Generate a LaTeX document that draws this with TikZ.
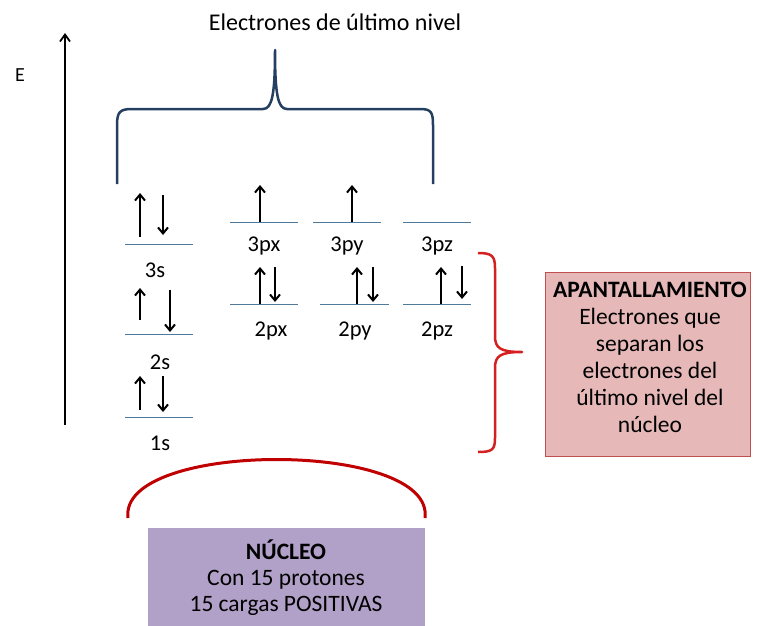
\documentclass[tikz,border=0pt]{standalone}
\usepackage{fontspec}
\setmainfont{Carlito}
\usetikzlibrary{arrows.meta}
\definecolor{bracec}{HTML}{243F60}
\definecolor{linec}{HTML}{4F7A9A}
\definecolor{redc}{HTML}{C0504D}
\definecolor{bracered}{HTML}{D42020}
\definecolor{boxred}{HTML}{E6B9B8}
\definecolor{arcred}{HTML}{C00000}
\definecolor{purp}{HTML}{B1A0C7}
\begin{document}
\begin{tikzpicture}[x=1pt,y=-1pt,
  lvl/.style={draw=linec,line width=0.8pt},
  el/.style={line width=2pt,-{Straight Barb[length=6pt,width=10pt]}},
  lab/.style={font=\fontsize{22.5}{24}\selectfont,inner sep=0pt}]
\useasboundingbox (0,0) rectangle (768,626);
\node[lab,font=\fontsize{20}{22}\selectfont] (E) at (20,75) {E};
\coordinate (ab) at (65,425); \coordinate (at) at (65,33);
\draw[line width=1.8pt,-{Straight Barb[length=7pt,width=10pt]}] (ab) -- (at);
\node[lab,font=\fontsize{24}{26}\selectfont] (title) at (335,22) {Electrones de último nivel};
% brace
\draw[bracec,line width=2.5pt,line join=round] (117,184) -- (117,125) .. controls (117,112) and (120,109) .. (132,109) -- (263,109) .. controls (272,109) and (275,95) .. (275,50)
  .. controls (275,95) and (278,109) .. (287,109) -- (420,109) .. controls (431,109) and (433,112) .. (433,125) -- (433,184);
% levels
\foreach \n/\a/\b/\y in {l3s/125/193/244,l2s/125/193/334,l1s/125/193/417,l3px/230/298/222,l3py/313/381/222,l3pz/403/471/222,l2px/230/298/304,l2py/320/389/304,l2pz/403/471/304}
  \draw[lvl] (\a,\y) coordinate (\n a) -- (\b,\y) coordinate (\n b);
% electrons
\foreach \x/\ya/\yb in {140/237/193, 140/320/288, 140/410/376, 260/222/185, 352/222/185, 260/304/267, 357/304/267, 441/304/267}
  \draw[el] (\x,\ya) -- (\x,\yb);
\foreach \x/\ya/\yb in {163/195/235, 170/290/332, 163/376/412, 275/267/302, 373/267/302, 462/266/299}
  \draw[el] (\x,\ya) -- (\x,\yb);
% labels
\node[lab] (t3s) at (155,270) {3s};
\node[lab] (t2s) at (160,362) {2s};
\node[lab] (t1s) at (160,443) {1s};
\node[lab] (t3px) at (264,246) {3px};
\node[lab] (t3py) at (347,246) {3py};
\node[lab] (t3pz) at (437,246) {3pz};
\node[lab] (t2px) at (271,331) {2px};
\node[lab] (t2py) at (355,331) {2py};
\node[lab] (t2pz) at (437,331) {2pz};
% red brace
\draw[bracered,line width=2.5pt,line join=round] (478,253) .. controls (492,253) and (495,256) .. (495,268) -- (495,336) .. controls (495,348) and (500,352) .. (522,352)
  .. controls (500,352) and (495,356) .. (495,368) -- (495,438) .. controls (495,450) and (492,452) .. (478,452);
\node[draw=redc,fill=boxred,line width=0.8pt,minimum width=205pt,minimum height=184pt,anchor=north west,inner sep=0pt] (apant) at (545,272) {};
\node[align=center,font=\fontsize{23.5}{27}\selectfont,anchor=north,inner sep=0pt] (apt) at (650,282) {\textbf{APANTALLAMIENTO}\\Electrones que\\separan los\\electrones del\\último nivel del\\núcleo};
% arc
\draw[arcred,line width=3pt] (128,518) .. controls (118,440) and (435,440) .. (425,518);
\node[fill=purp,minimum width=277pt,minimum height=98pt,anchor=north west,inner sep=0pt] (nuc) at (148,528) {};
\node[align=center,font=\fontsize{23.5}{26}\selectfont] (nuct) at (286,578) {\textbf{NÚCLEO}\\Con 15 protones\\15 cargas POSITIVAS};
\end{tikzpicture}
\end{document}
